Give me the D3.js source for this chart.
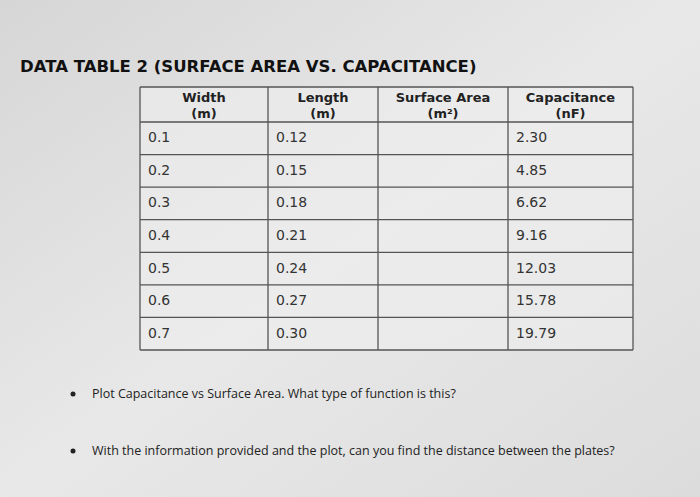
<!DOCTYPE html>
<html><head><meta charset="utf-8">
<script src="https://cdn.jsdelivr.net/npm/d3@7"></script>
<style>body{margin:0;background:#e6e6e6}</style></head>
<body><svg id="c" width="700" height="497"></svg>
<script>
const title = "DATA TABLE 2 (SURFACE AREA VS. CAPACITANCE)";
const headers = [["Width","(m)"],["Length","(m)"],["Surface Area","(m²)"],["Capacitance","(nF)"]];
const widths = ["0.1","0.2","0.3","0.4","0.5","0.6","0.7"];
const lengths = ["0.12","0.15","0.18","0.21","0.24","0.27","0.30"];
const areas = ["","","","","","",""];
const caps = ["2.30","4.85","6.62","9.16","12.03","15.78","19.79"];
const questions = ["Plot Capacitance vs Surface Area. What type of function is this?",
 "With the information provided and the plot, can you find the distance between the plates?"];

const svg = d3.select("#c");
const defs = svg.append("defs");
const g = defs.append("linearGradient").attr("id","bg").attr("x1",0).attr("y1",0).attr("x2",1).attr("y2",1);
g.append("stop").attr("offset",0).attr("stop-color","#d6d6d6");
g.append("stop").attr("offset",0.5).attr("stop-color","#e8e8e8");
g.append("stop").attr("offset",1).attr("stop-color","#dcdcdc");
svg.append("rect").attr("width",700).attr("height",497).attr("fill","url(#bg)");

svg.append("text").attr("x",20).attr("y",72).text(title)
 .attr("font-family","DejaVu Sans, sans-serif").attr("font-weight","bold").attr("font-size",16.5).attr("fill","#111");

const colEdges = [140,268,378,508,633];
const colX = i => colEdges[i];
const rows = widths.map((w,i)=>[w,lengths[i],areas[i],caps[i]]);
const y = d3.scaleBand().domain(d3.range(rows.length)).range([122,350]);
const tableTop = 87;

const t = svg.append("g");
t.append("rect").attr("x",140).attr("y",tableTop).attr("width",493).attr("height",263).attr("fill","#eeeeee").attr("fill-opacity",0.6);
headers.forEach((h,i)=>{
  const cx = (colX(i)+colX(i+1))/2;
  h.forEach((s,j)=>t.append("text").attr("x",cx).attr("y",102+j*16).attr("text-anchor","middle")
    .attr("font-family","DejaVu Sans, sans-serif").attr("font-weight","bold").attr("font-size",13).attr("fill","#222").text(s));
});
const stroke="#555";
colEdges.forEach(cx=>t.append("line").attr("x1",cx).attr("x2",cx).attr("y1",tableTop).attr("y2",350).attr("stroke",stroke).attr("stroke-width",1.3));
[tableTop,...rows.map((r,i)=>y(i)),350].forEach(yy=>t.append("line").attr("x1",140).attr("x2",633).attr("y1",yy).attr("y2",yy).attr("stroke",stroke).attr("stroke-width",1.3));
rows.forEach((r,i)=>r.forEach((v,j)=>{
  t.append("text").attr("x",colX(j)+8).attr("y",y(i)+y.bandwidth()/2+4).text(v)
   .attr("font-family","DejaVu Sans, sans-serif").attr("font-size",14).attr("fill","#333");
}));
questions.forEach((q,i)=>{
  const yy = [398,455][i];
  svg.append("circle").attr("cx",73).attr("cy",yy-4).attr("r",2.5).attr("fill","#222");
  svg.append("text").attr("x",92).attr("y",yy).text(q).attr("font-family","Open Sans, sans-serif").attr("font-size",12.5).attr("fill","#222");
});
</script></body></html>
